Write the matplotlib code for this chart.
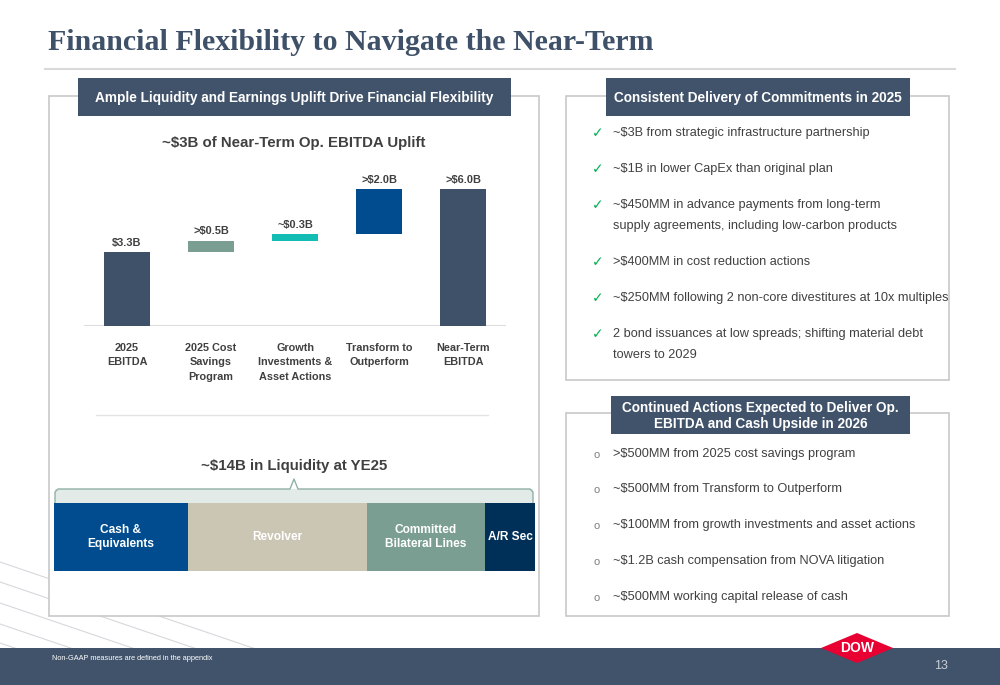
import numpy as np
import matplotlib
matplotlib.use('Agg')
import matplotlib.pyplot as plt
from matplotlib.patches import Rectangle, Polygon

plt.rcParams['font.family'] = ['Liberation Sans', 'DejaVu Sans']

# waterfall data
wf_cats = ['2025\nEBITDA', '2025 Cost\nSavings\nProgram', 'Growth\nInvestments &\nAsset Actions',
           'Transform to\nOutperform', 'Near-Term\nEBITDA']
wf_vals = [3.3, 0.5, 0.3, 2.0]
wf_labels = ['$3.3B', '>$0.5B', '~$0.3B', '>$2.0B', '>$6.0B']
wf_colors = ['#3f5168', '#7a9e92', '#14bdb3', '#004c8f', '#3f5168']

# liquidity data ($B, estimated)
liq_names = ['Cash &\nEquivalents', 'Revolver', 'Committed\nBilateral Lines', 'A/R Sec']
liq_vals = [3.9, 5.2, 3.45, 1.45]
liq_colors = ['#004c8f', '#cbc5b4', '#7a9e92', '#003057']

delivered = ['~$3B from strategic infrastructure partnership',
             '~$1B in lower CapEx than original plan',
             '~$450MM in advance payments from long-term\nsupply agreements, including low-carbon products',
             '>$400MM in cost reduction actions',
             '~$250MM following 2 non-core divestitures at 10x multiples',
             '2 bond issuances at low spreads; shifting material debt\ntowers to 2029']
expected = ['>$500MM from 2025 cost savings program',
            '~$500MM from Transform to Outperform',
            '~$100MM from growth investments and asset actions',
            '~$1.2B cash compensation from NOVA litigation',
            '~$500MM working capital release of cash']

SLATE = '#41536a'
TXT = '#404040'
W, H = 1000, 685

fig = plt.figure(figsize=(10, 6.85), dpi=100)
bg = fig.add_axes([0, 0, 1, 1])
bg.set_xlim(0, W)
bg.set_ylim(H, 0)
bg.axis('off')

# decorative diagonal lines bottom-left (partly hidden by the panel)
for y0 in [562, 582, 603, 624, 643]:
    xs = np.array([0, 300])
    bg.plot(xs, y0 + 0.34 * xs, color='#d5d8dc', lw=0.8, zorder=0)

# title
bg.text(48, 42, 'Financial Flexibility to Navigate the Near-Term', family='Liberation Serif',
        weight='bold', fontsize=21.5, color='#3f5168', va='center', ha='left')
bg.plot([45, 955], [69, 69], color='#d9d9d9', lw=1.5)

# panel frames
def frame(x0, y0, x1, y1):
    bg.add_patch(Rectangle((x0, y0), x1 - x0, y1 - y0, fc='white', ec='#c8c8c8', lw=1.2, zorder=1))

def header(x0, y0, x1, y1, text, fs=9.8):
    bg.add_patch(Rectangle((x0, y0), x1 - x0, y1 - y0, fc=SLATE, ec='none', zorder=2))
    bg.text((x0 + x1) / 2, (y0 + y1) / 2 + 1, text, color='white', weight='bold', fontsize=fs,
            ha='center', va='center', zorder=3, linespacing=1.15)

frame(49, 96, 539, 616)
header(78, 78, 511, 116, 'Ample Liquidity and Earnings Uplift Drive Financial Flexibility')
frame(566, 96, 949, 380)
header(606, 78, 910, 116, 'Consistent Delivery of Commitments in 2025')
frame(566, 413, 949, 616)
header(611, 396, 910, 434, 'Continued Actions Expected to Deliver Op.\nEBITDA and Cash Upside in 2026')

# waterfall
bg.text(294, 143, '~$3B of Near-Term Op. EBITDA Uplift', fontsize=10.8, weight='bold',
        color='#404040', ha='center', va='center', zorder=3)
ax = fig.add_axes([76.6 / W, (H - 326) / H, 437 / W, (326 - 165) / H])
ax.set_xlim(-0.6, 4.6)
ax.set_ylim(0, 7.19)
cum = np.concatenate([[0], np.cumsum(wf_vals)])
bottoms = list(cum[:-1]) + [0]
heights = list(wf_vals) + [cum[-1]]
x = np.arange(len(wf_cats))
ax.bar(x, heights, bottom=bottoms, width=0.55, color=wf_colors, zorder=2)
for xi, b, h, lab in zip(x, bottoms, heights, wf_labels):
    ax.text(xi, b + h + 0.2, lab, ha='center', va='bottom', fontsize=7.9, weight='bold', color=TXT)
ax.axhline(0, xmin=0.02, xmax=0.98, color='#dddddd', lw=1.5, zorder=1)
ax.set_xticks(x)
ax.set_xticklabels(wf_cats, fontsize=7.8, weight='bold', color=TXT, linespacing=1.6)
ax.tick_params(length=0, pad=12)
ax.set_yticks([])
for s in ax.spines.values():
    s.set_visible(False)
ax.patch.set_alpha(0)

bg.plot([96, 488], [415, 415], color='#e3e3e3', lw=1, zorder=2)

# liquidity bar
bg.text(294, 466, '~$14B in Liquidity at YE25', fontsize=10.8, weight='bold', color='#404040',
        ha='center', va='center', zorder=3)
bg.add_patch(Rectangle((55, 489), 478, 14, fc='#e3ebe8', ec='none', zorder=2))
bg.plot([55, 55, 58, 290, 294, 298, 530, 533, 533],
        [503, 492, 489, 489, 479, 489, 489, 492, 503], color='#8fb0a6', lw=1, zorder=3)
lx = fig.add_axes([54 / W, (H - 571) / H, 481 / W, 68 / H])
lefts = np.concatenate([[0], np.cumsum(liq_vals)[:-1]])
lx.barh(0, liq_vals, left=lefts, height=1, color=liq_colors)
for l, v, n in zip(lefts, liq_vals, liq_names):
    lx.text(l + v / 2, 0, n, ha='center', va='center', color='white', weight='bold',
            fontsize=8.6, linespacing=1.3)
lx.set_xlim(0, sum(liq_vals))
lx.set_ylim(-0.5, 0.5)
lx.axis('off')

# bullet lists
chk_y = [133, 169, 205, 262, 298, 334]
for y, t in zip(chk_y, delivered):
    bg.text(598, y, '\u2713', family=['DejaVu Sans'], fontsize=10, color='#00b050',
            ha='center', va='center', zorder=3)
    for k, line in enumerate(t.split('\n')):
        bg.text(613, y + 21 * k, line, fontsize=9.2, color=TXT, ha='left', va='center', zorder=3)
for y, t in zip([454, 489, 525, 561, 597], expected):
    bg.text(597, y + 1, 'o', fontsize=8, color='#7f7f7f', ha='center', va='center', zorder=3)
    bg.text(613, y, t, fontsize=9.2, color=TXT, ha='left', va='center', zorder=3)

# footer
bg.add_patch(Rectangle((0, 648), W, H - 648, fc=SLATE, ec='none', zorder=3))
bg.text(52, 658, 'Non-GAAP measures are defined in the appendix', fontsize=5.3, color='white',
        ha='left', va='center', zorder=4)
bg.text(941, 666, '13', fontsize=9, color='#c8ced6', ha='center', va='center', zorder=4)
bg.add_patch(Polygon([[821, 648], [857, 633], [893, 648], [857, 663]], closed=True,
                     fc='#e80033', ec='none', zorder=5))
bg.text(857, 648, 'DOW', fontsize=10, weight='bold', color='white',
        ha='center', va='center', zorder=6)

fig.savefig('out.png', dpi=100, facecolor='white')
